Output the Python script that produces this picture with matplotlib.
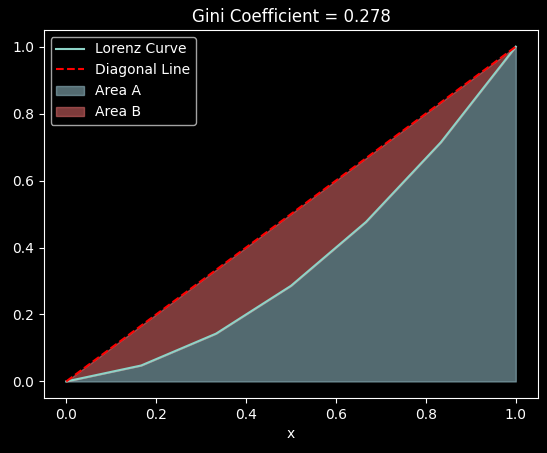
import matplotlib
matplotlib.use("Agg")
import matplotlib.pyplot as plt

x = [0, 1/6, 2/6, 3/6, 4/6, 5/6, 1]
lorenz = [0, 1/21, 3/21, 6/21, 10/21, 15/21, 1]
gini = 0.278

plt.style.use("dark_background")
fig, ax = plt.subplots(figsize=(5.47, 4.53), dpi=100)
fig.subplots_adjust(left=0.08, right=0.984, top=0.934, bottom=0.121)

ax.plot(x, lorenz, label="Lorenz Curve")
ax.plot([0, 1], [0, 1], "r--", label="Diagonal Line")
ax.fill_between(x, lorenz, color="#8cb2bc", alpha=0.6, label="Area A")
ax.fill_between(x, lorenz, x, color="#d26464", alpha=0.6, label="Area B")
ax.set_title(f"Gini Coefficient = {gini:.3f}")
ax.set_xlabel("x")
ax.legend(loc="upper left")

fig.savefig("out.png")
